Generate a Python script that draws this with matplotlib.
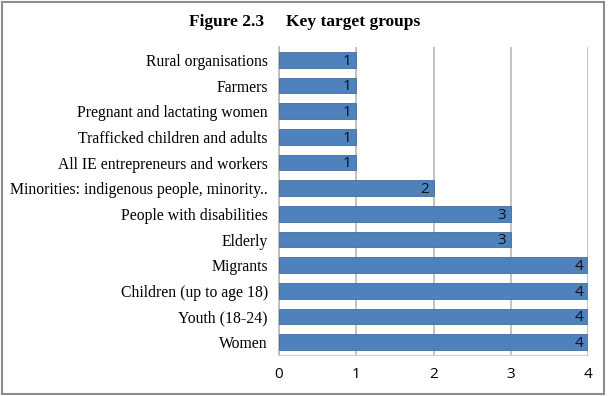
import matplotlib
matplotlib.use("Agg")
import matplotlib.pyplot as plt
from matplotlib.patches import Rectangle

categories = ["Rural organisations", "Farmers", "Pregnant and lactating women",
              "Trafficked children and adults", "All IE entrepreneurs and workers",
              "Minorities: indigenous people, minority..", "People with disabilities",
              "Elderly", "Migrants", "Children (up to age 18)", "Youth (18-24)", "Women"]
values = [1, 1, 1, 1, 1, 2, 3, 3, 4, 4, 4, 4]
xticks = [0, 1, 2, 3, 4]
title = "Figure 2.3     Key target groups"

W, H = 610, 396
fig = plt.figure(figsize=(W/100, H/100), dpi=100)
fig.patches.append(Rectangle((1.5/W, 2/H), (604-1.5)/W, (394.5-2)/H, transform=fig.transFigure,
                             fill=False, edgecolor="#8c8c8c", linewidth=1.5))
ax = fig.add_axes([279/W, 1-355/H, (588-279)/W, (355-47)/H])

ys = list(range(len(categories)))[::-1]
ax.barh(ys, values, height=0.62, color="#4F81BD", edgecolor="#41709f", linewidth=0.6, zorder=3)
for y, v in zip(ys, values):
    ax.text(v - 0.06, y - 0.05, str(v), ha="right", va="center", fontsize=11,
            family="Open Sans", color="#111111", zorder=4)

ax.set_xlim(0, 4)
ax.set_ylim(-0.5, len(categories) - 0.5)
ax.set_xticks(xticks)
ax.set_xticklabels([str(t) for t in xticks], family="Open Sans", fontsize=11)
ax.set_yticks(ys)
ax.set_yticklabels(categories, family="Liberation Serif", fontsize=11.3)
ax.tick_params(axis="both", length=0)
ax.tick_params(axis="x", pad=9)
ax.tick_params(axis="y", pad=8)
ax.grid(axis="x", color="#b8b8b8", linewidth=1.2, zorder=0)
for s in ["top", "right"]:
    ax.spines[s].set_visible(False)
ax.spines["left"].set_color("#b8b8b8")
ax.spines["left"].set_linewidth(1.2)
ax.spines["bottom"].set_color("#d0d0d0")
ax.spines["bottom"].set_linewidth(0.8)

fig.text(305/W, 1-22/H, title, ha="center", va="center", family="Liberation Serif",
         fontweight="bold", fontsize=12.5)
fig.savefig("out.png", dpi=100)
